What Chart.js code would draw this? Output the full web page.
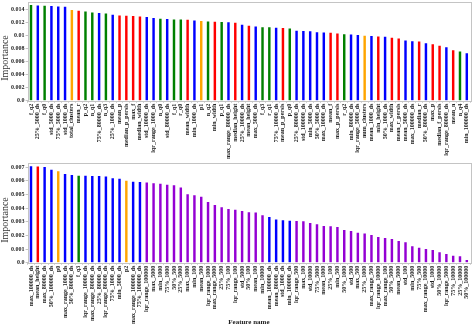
<!DOCTYPE html>
<html>
<head>
<meta charset="utf-8">
<script src="https://cdn.jsdelivr.net/npm/chart.js@4/dist/chart.umd.min.js"></script>
<style>
html,body{margin:0;padding:0;background:#fff;}
#wrap{position:relative;width:474px;height:326px;overflow:hidden;}
canvas{position:absolute;left:0;}
</style>
</head>
<body>
<div id="wrap">
<canvas id="c1" width="474" height="160" style="top:0"></canvas>
<canvas id="c2" width="474" height="166" style="top:160px"></canvas>
</div>
<script>
// ---------- DATA ----------
const topLabels = ["f_q2","25%_5000_ds","f_q0","std_5000_ds","75%_5000_ds","std_1000_ds","total_clusters","mean_r","p_q2","n_q1",
"75%_80000_ds","n_q3","25%_1000_ds","mean_p","median_p_persis","max_f","median_width","std_10000_ds","lqr_range_1000_ds","n_q0",
"std_80000_ds","f_q1","r_q0","mean_width","min_1000_ds","p1","n_q2","min_width","p_q1","max_range_80000_ds",
"median_height","25%_10000_ds","mean_height","max_5000_ds","f_q3","r_q1","75%_10000_ds","mean_p_persis","p_q0","25%_80000_ds",
"std_100000_ds","min_5000_ds","50%_5000_ds","max_10000_ds","mean_f","max_p_persis","r_q2","min_80000_ds","lqr_range_5000_ds","num_clusters",
"mean_1000_ds","min_height","50%_1000_ds","max_width","mean_r_persis","mean_5000_ds","max_100000_ds","median_r","50%_80000_ds","max_p",
"median_f_persis","lqr_range_80000_ds","mean_n","n_q4","min_100000_ds"];
const topValues = [0.01473,0.01467,0.01462,0.01457,0.01451,0.01447,0.01395,0.01385,0.01374,0.01359,
0.01350,0.01343,0.01323,0.01312,0.01308,0.01303,0.01297,0.01288,0.01274,0.01261,
0.01257,0.01252,0.01250,0.01246,0.01235,0.01226,0.01220,0.01215,0.01213,0.01210,
0.01200,0.01169,0.01153,0.01143,0.01133,0.01130,0.01122,0.01118,0.01112,0.01076,
0.01072,0.01068,0.01056,0.01050,0.01045,0.01034,0.01025,0.01019,0.01010,0.00999,
0.00997,0.00988,0.00984,0.00968,0.00957,0.00926,0.00917,0.00911,0.00886,0.00871,
0.00845,0.00824,0.00778,0.00757,0.00732];
const topGroups = ["q","ds","q","ds","ds","ds","cl","st","q","q",
"ds","q","ds","st","st","st","st","ds","ds","q",
"ds","q","q","st","ds","cl","q","st","q","ds",
"st","ds","st","ds","q","q","ds","st","q","ds",
"ds","ds","ds","ds","st","st","q","ds","ds","cl",
"ds","st","ds","st","st","ds","ds","st","ds","st",
"st","ds","st","q","ds"];

const botLabels = ["max_100000_ds","mean_height","max_80000_ds","50%_100000_ds","p0","max_range_1000_ds","50%_80000_ds","f_q3","lqr_range_10000_ds","max_range_80000_ds",
"25%_80000_ds","lqr_range_80000_ds","75%_1000_ds","min_5000_ds","p2","max_range_100000_ds","75%_100000_ds","lqr_range_100000","max_5000","min_1000",
"75%_1000","50%_500","25%_5000","max_1000","min_100","mean_500","lqr_range_1000","max_range_5000","25%_500","75%_100",
"lqr_range_100","std_5000","50%_100","mean_100","min_10000","mean_100000_ds","mean_80000_ds","std_1000_ds","min_100000_ds","lqr_range_500",
"max_100","std_10000","75%_5000","mean_1000","25%_100","min_500","50%_1000","std_500","max_500","25%_1000",
"max_range_500","lqr_range_10000","max_range_100","50%_5000","mean_5000","std_100","min_5000","75%_500","max_range_10000","std_1000",
"50%_10000","lqr_range_5000","75%_10000","25%_10000","50%_100000"];
const botValues = [0.00707,0.00704,0.00700,0.00680,0.00670,0.00649,0.00643,0.00637,0.00636,0.00635,
0.00634,0.00631,0.00619,0.00614,0.00600,0.00592,0.00590,0.00587,0.00582,0.00578,
0.00570,0.00568,0.00550,0.00502,0.00494,0.00482,0.00445,0.00423,0.00406,0.00394,
0.00387,0.00379,0.00370,0.00367,0.00348,0.00335,0.00316,0.00311,0.00308,0.00306,
0.00304,0.00291,0.00282,0.00269,0.00267,0.00262,0.00240,0.00233,0.00220,0.00213,
0.00203,0.00189,0.00181,0.00174,0.00159,0.00150,0.00120,0.00110,0.00100,0.00093,
0.00076,0.00064,0.00051,0.00047,0.00020];
const botGroups = ["ds","st","ds","ds","cl","ds","ds","q","ds","ds",
"ds","ds","ds","ds","cl","ds","ds","raw","raw","raw",
"raw","raw","raw","raw","raw","raw","raw","raw","raw","raw",
"raw","raw","raw","raw","raw","ds","ds","ds","ds","raw",
"raw","raw","raw","raw","raw","raw","raw","raw","raw","raw",
"raw","raw","raw","raw","raw","raw","raw","raw","raw","raw",
"raw","raw","raw","raw","raw"];

const topTicks = [0, 0.002, 0.004, 0.006, 0.008, 0.01, 0.012, 0.014];
const botTicks = [0, 0.001, 0.002, 0.003, 0.004, 0.005, 0.006, 0.007];
const yTitle = "Importance";
const xTitle = "Feature name";

// ---------- STYLE ----------
const palette = {q:"#008000", ds:"#0000ff", cl:"#ffa500", st:"#ff0000", raw:"#9400d3"};
const serif = "'Liberation Serif','DejaVu Serif',serif";
const frameColor = "#c4c4c4";

function fmt(v){
  if (v === 0) return "0.0";
  return String(+v.toFixed(4));
}

function makeChart(id, labels, values, groups, ticks, yMax, geom, showX){
  const framePlugin = {
    id: 'frame'+id,
    afterDraw(chart){
      const {ctx, chartArea:a} = chart;
      ctx.save();
      ctx.strokeStyle = frameColor;
      ctx.lineWidth = 1;
      ctx.strokeRect(Math.round(a.left)+0.5, Math.round(a.top)+0.5, Math.round(a.right-a.left), Math.round(a.bottom-a.top));
      ctx.translate(geom.ytx, geom.yty);
      ctx.rotate(-Math.PI/2);
      ctx.fillStyle = "#333";
      ctx.font = "10px " + serif;
      ctx.textAlign = "center";
      ctx.textBaseline = "middle";
      ctx.fillText(yTitle, 0, 0);
      ctx.restore();
    }
  };
  return new Chart(document.getElementById(id), {
    type: 'bar',
    data: {
      labels: labels,
      datasets: [{
        data: values,
        backgroundColor: groups.map(g => palette[g]),
        borderWidth: 0,
        barPercentage: 0.36,
        categoryPercentage: 1.0
      }]
    },
    options: {
      responsive: false,
      animation: false,
      events: [],
      layout: {padding: {left: 0, right: geom.padRight, top: geom.padTop, bottom: 0}},
      plugins: {legend: {display: false}, tooltip: {enabled: false}},
      scales: {
        x: {
          offset: true,
          grid: {display: true, drawOnChartArea: false, drawTicks: true, tickLength: 2, color: frameColor},
          border: {display: false},
          ticks: {
            autoSkip: false, maxRotation: 90, minRotation: 90, padding: 1,
            color: "#222",
            font: {family: serif, size: 6, weight: 'bold'}
          },
          title: {
            display: showX, text: xTitle, color: "#222",
            font: {family: serif, size: 7, weight: 'bold'},
            padding: {top: 0, bottom: 0}
          },
          afterFit(scale){ scale.height = geom.xh; scale.paddingLeft = 0; scale.paddingRight = 0; }
        },
        y: {
          min: 0, max: yMax,
          grid: {display: true, drawOnChartArea: false, drawTicks: true, tickLength: 2, color: frameColor},
          border: {display: false},
          afterBuildTicks(scale){ scale.ticks = ticks.map(v => ({value: v})); },
          ticks: {
            padding: 1, color: "#222",
            font: {family: serif, size: 6, weight: 'bold'},
            callback: (v) => fmt(v)
          },
          afterFit(scale){ scale.width = geom.yw; scale.paddingTop = 0; scale.paddingBottom = 0; }
        }
      }
    },
    plugins: [framePlugin]
  });
}

makeChart('c1', topLabels, topValues, topGroups, topTicks, 0.0152,
  {padRight: 3.8, padTop: 2, xh: 59.3, yw: 27.6, ytx: 5, yty: 58}, false);
makeChart('c2', botLabels, botValues, botGroups, botTicks, 0.0073,
  {padRight: 3.8, padTop: 3, xh: 63.3, yw: 27.6, ytx: 5, yty: 60}, true);
</script>
</body>
</html>
